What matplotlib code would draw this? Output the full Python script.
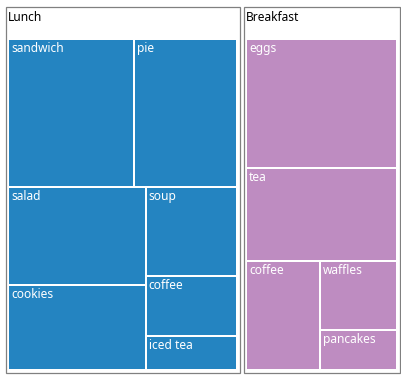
import matplotlib
matplotlib.use("Agg")
import matplotlib.pyplot as plt
from matplotlib.patches import Rectangle

# Data
groups = ["Lunch", "Breakfast"]
lunch_items = ["sandwich", "pie", "salad", "cookies", "soup", "coffee", "iced tea"]
lunch_values = [24, 19.5, 17.5, 15, 10.5, 7, 4]
breakfast_items = ["eggs", "tea", "coffee", "waffles", "pancakes"]
breakfast_values = [25.5, 18.5, 10.5, 7, 4]

group_items = [lunch_items, breakfast_items]
group_values = [lunch_values, breakfast_values]
group_colors = ["#2484C1", "#BE8CC1"]

W, H = 402, 389


def worst(row, side):
    s = sum(row)
    return max(max(side * side * r / (s * s), s * s / (side * side * r)) for r in row)


# Squarified treemap layout, y grows downward
def squarify(values, x, y, w, h):
    total = sum(values)
    areas = [v * w * h / total for v in values]
    rects = []
    while areas:
        side = min(w, h)
        row = [areas[0]]
        i = 1
        while i < len(areas) and worst(row + [areas[i]], side) < worst(row, side):
            row.append(areas[i])
            i += 1
        s = sum(row)
        if w >= h:
            cw = s / h
            yy = y
            for a in row:
                rh = a / cw
                rects.append((x, yy, cw, rh))
                yy += rh
            x += cw
            w -= cw
        else:
            rh = s / w
            xx = x
            for a in row:
                cw = a / rh
                rects.append((xx, y, cw, rh))
                xx += cw
            y += rh
            h -= rh
        areas = areas[i:]
    return rects


fig = plt.figure(figsize=(W / 100, H / 100), dpi=100)
ax = fig.add_axes([0, 0, 1, 1])
ax.set_xlim(0, W)
ax.set_ylim(H, 0)
ax.axis("off")

font = ["Noto Sans", "DejaVu Sans"]

totals = [sum(v) for v in group_values]
group_rects = squarify(totals, 4, 5, 398, 370)

for name, items, values, color, (gx, gy, gw, gh) in zip(groups, group_items, group_values, group_colors, group_rects):
    bx, by, bw, bh = gx + 2, gy + 2, gw - 4, gh - 4
    ax.add_patch(Rectangle((bx, by), bw, bh, facecolor="white", edgecolor="#808080", linewidth=0.9))
    ax.text(bx + 2, by + 4, name, color="black", fontsize=8.6, family=font, va="top", ha="left")
    # tile area inside the group box
    tx, ty, tw, th = bx + 2, by + 32, bw - 5, bh - 35
    for label, (rx, ry, rw, rh) in zip(items, squarify(values, tx, ty, tw, th)):
        ax.add_patch(Rectangle((rx + 1, ry + 1), rw - 2, rh - 2, facecolor=color, edgecolor="none"))
        ax.text(rx + 3, ry + 3, label, color="white", fontsize=8.6, family=font, va="top", ha="left")

fig.savefig("out.png", dpi=100)
